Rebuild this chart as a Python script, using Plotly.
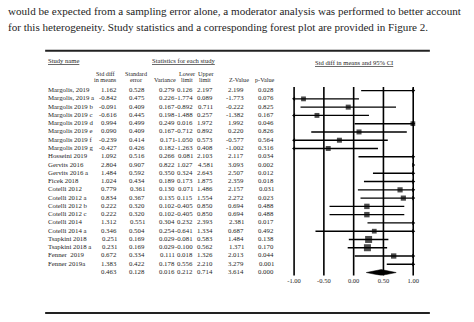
import plotly.graph_objects as go

# ---------------- data ----------------
studies = ["Margolis, 2019", "Margolis, 2019 a", "Margolis 2019 b", "Margolis 2019 c",
           "Margolis 2019 d", "Margolis 2019 e", "Margolis 2019 f", "Margolis 2019 g",
           "Hosseini 2019", "Gervits 2016", "Gervits 2016 a", "Ficek 2018",
           "Cotelli 2012", "Cotelli 2012 a", "Cotelli 2012 b", "Cotelli 2012 c",
           "Cotelli 2014", "Cotelli 2014 a", "Tsapkini 2018", "Tsapkini 2018 a",
           "Fenner  2019", "Fenner 2019a"]
std_diff = [1.162, -0.842, -0.091, -0.616, 0.994, 0.090, -0.239, -0.427, 1.092, 2.804, 1.484, 1.024,
            0.779, 0.834, 0.222, 0.222, 1.312, 0.346, 0.251, 0.231, 0.672, 1.383]
std_err = [0.528, 0.475, 0.409, 0.445, 0.499, 0.409, 0.414, 0.426, 0.516, 0.907, 0.592, 0.434,
           0.361, 0.367, 0.320, 0.320, 0.551, 0.504, 0.169, 0.169, 0.334, 0.422]
variance = [0.279, 0.226, 0.167, 0.198, 0.249, 0.167, 0.171, 0.182, 0.266, 0.822, 0.350, 0.189,
            0.130, 0.135, 0.102, 0.102, 0.304, 0.254, 0.029, 0.029, 0.111, 0.178]
lower = [0.126, -1.774, -0.892, -1.488, 0.016, -0.712, -1.050, -1.263, 0.081, 1.027, 0.324, 0.173,
         0.071, 0.115, -0.405, -0.405, 0.232, -0.641, -0.081, -0.100, 0.018, 0.556]
upper = [2.197, 0.089, 0.711, 0.257, 1.972, 0.892, 0.573, 0.408, 2.103, 4.581, 2.643, 1.875,
         1.486, 1.554, 0.850, 0.850, 2.393, 1.334, 0.583, 0.562, 1.326, 2.210]
z_value = [2.199, -1.773, -0.222, -1.382, 1.992, 0.220, -0.577, -1.002, 2.117, 3.093, 2.507, 2.359,
           2.157, 2.272, 0.694, 0.694, 2.381, 0.687, 1.484, 1.371, 2.013, 3.279]
p_value = [0.028, 0.076, 0.825, 0.167, 0.046, 0.826, 0.564, 0.316, 0.034, 0.002, 0.012, 0.018,
           0.031, 0.023, 0.488, 0.488, 0.017, 0.492, 0.138, 0.170, 0.044, 0.001]

summary_stats = [0.463, 0.128, 0.016, 0.212, 0.714, 3.614, 0.000]  # diff, se, var, lo, hi, z, p

col_head_1 = ["Std diff", "Standard", "", "Lower", "Upper", "", ""]
col_head_2 = ["in means", "error", "Variance", "limit", "limit", "Z-Value", "p-Value"]

tick_vals = [-1.0, -0.5, 0.0, 0.5, 1.0]
tick_text = ["-1.00", "-0.50", "0.00", "0.50", "1.00"]

para_lines = [
    "would be expected from a sampling error alone, a moderator analysis was performed to better account",
    "for this heterogeneity. Study statistics and a corresponding forest plot are provided in Figure 2.",
]

# ---------------- layout helpers ----------------
W, H = 474, 322
SERIF = "Liberation Serif"
INK = "#1e1e1e"


def px(x):
    return x / W


def py(y):
    return 1 - y / H


XMIN, XMAX = -1.0, 1.0
PAD = 0.02
x_left_px, x_right_px = 294.3, 416.0
unit = (x_right_px - x_left_px) / (XMAX - XMIN)
dom_x = [px(x_left_px - PAD * unit), px(x_right_px + PAD * unit)]

row0_px, row_h = 90.6, 8.27
top_px, bot_px = 87.0, 275.5
y_top = (top_px - row0_px) / row_h
y_bot = (bot_px - row0_px) / row_h
dom_y = [py(bot_px), py(top_px)]

n = len(studies)
rows = list(range(n))
sum_row = n

fig = go.Figure()

# CI lines (clipped to display range)
lx, ly = [], []
for i in rows:
    a, b = max(lower[i], XMIN), min(upper[i], XMAX)
    if a < b:
        lx += [a, b, None]
        ly += [i, i, None]
fig.add_trace(go.Scatter(x=lx, y=ly, mode="lines", line=dict(color="black", width=1.4),
                         hoverinfo="skip", showlegend=False))

# arrows for CIs beyond display range
rx = [XMAX for i in rows if upper[i] > XMAX]
ry = [i for i in rows if upper[i] > XMAX]
lxa = [XMIN for i in rows if lower[i] < XMIN]
lya = [i for i in rows if lower[i] < XMIN]
fig.add_trace(go.Scatter(x=rx, y=ry, mode="markers", cliponaxis=False,
                         marker=dict(symbol="triangle-right", size=4, color="black"),
                         hoverinfo="skip", showlegend=False))
fig.add_trace(go.Scatter(x=lxa, y=lya, mode="markers", cliponaxis=False,
                         marker=dict(symbol="triangle-left", size=4, color="black"),
                         hoverinfo="skip", showlegend=False))

# boxes sized by weight
weights = [1 / v for v in variance]
wmax = max(weights)
bx, by, bs = [], [], []
for i in rows:
    if XMIN <= std_diff[i] <= XMAX:
        bx.append(std_diff[i])
        by.append(i)
        bs.append(3.6 + 3.4 * (weights[i] / wmax) ** 0.5)
fig.add_trace(go.Scatter(x=bx, y=by, mode="markers", cliponaxis=False,
                         marker=dict(symbol="square", size=bs, color="black", line=dict(width=0)),
                         hoverinfo="skip", showlegend=False))

# summary diamond
s_est, s_lo, s_hi = summary_stats[0], summary_stats[3], summary_stats[4]
dh = 0.36
fig.add_trace(go.Scatter(x=[s_lo, s_est, s_hi, s_est, s_lo],
                         y=[sum_row, sum_row - dh, sum_row, sum_row + dh, sum_row],
                         mode="lines", fill="toself", fillcolor="black",
                         line=dict(color="black", width=0.5), cliponaxis=False,
                         hoverinfo="skip", showlegend=False))

# vertical reference lines
shapes = []
for t in tick_vals:
    shapes.append(dict(type="line", xref="x", yref="paper", x0=t, x1=t,
                       y0=dom_y[0], y1=dom_y[1], line=dict(color="black", width=1.6)))

# rules
for yy in (50.7, 313.0):
    shapes.append(dict(type="line", xref="paper", yref="paper", x0=px(40), x1=px(433),
                       y0=py(yy), y1=py(yy), line=dict(color="#222", width=2)))

ann = []
# paragraph
for k, line in enumerate(para_lines):
    ann.append(dict(text=line, xref="paper", yref="paper", x=px(0), y=py(10.5 + 16.5 * k),
                    xanchor="left", yanchor="middle", showarrow=False,
                    font=dict(family=SERIF, size=11.1, color=INK)))

# section headers
ann.append(dict(text="<u>Study name</u>", xref="paper", yref="paper", x=px(41), y=py(61),
                xanchor="left", yanchor="middle", showarrow=False,
                font=dict(family=SERIF, size=6.6, color=INK)))
ann.append(dict(text="<u>Statistics for each study</u>", xref="paper", yref="paper", x=px(182),
                y=py(61), xanchor="center", yanchor="middle", showarrow=False,
                font=dict(family=SERIF, size=6.6, color=INK)))
ann.append(dict(text="<u>Std diff in means and 95% CI</u>", xref="paper", yref="paper", x=px(355),
                y=py(62), xanchor="center", yanchor="middle", showarrow=False,
                font=dict(family=SERIF, size=6.6, color=INK)))

# column headers
head_cx = [102, 133, 162, 184.5, 203.5, 238, 264]
for c in range(7):
    for txt, yy in ((col_head_1[c], 73.3), (col_head_2[c], 79.5)):
        if txt:
            ann.append(dict(text=txt, xref="paper", yref="paper", x=px(head_cx[c]), y=py(yy),
                            xanchor="center", yanchor="middle", showarrow=False,
                            font=dict(family=SERIF, size=6.2, color=INK)))

# table body
col_right = [115.7, 144.5, 174.3, 193.3, 213.3, 245.5, 275.5]
text_row0 = 89.6


def add_row(r, name, vals):
    yy = py(text_row0 + row_h * r)
    if name:
        ann.append(dict(text=name, xref="paper", yref="paper", x=px(41), y=yy,
                        xanchor="left", yanchor="middle", showarrow=False,
                        font=dict(family=SERIF, size=6.8, color=INK)))
    for c, v in enumerate(vals):
        ann.append(dict(text=f"{v:.3f}", xref="paper", yref="paper", x=px(col_right[c]), y=yy,
                        xanchor="right", yanchor="middle", showarrow=False,
                        font=dict(family=SERIF, size=6.8, color=INK)))


for i in rows:
    add_row(i, studies[i], [std_diff[i], std_err[i], variance[i], lower[i], upper[i],
                            z_value[i], p_value[i]])
add_row(sum_row, "", summary_stats)

fig.update_layout(
    width=W, height=H, margin=dict(l=0, r=0, t=0, b=0),
    paper_bgcolor="white", plot_bgcolor="rgba(0,0,0,0)",
    showlegend=False, shapes=shapes, annotations=ann,
    xaxis=dict(domain=dom_x, range=[XMIN - PAD, XMAX + PAD], tickvals=tick_vals, ticktext=tick_text,
               showgrid=False, zeroline=False, showline=False, ticks="",
               tickfont=dict(family=SERIF, size=6.5, color=INK), fixedrange=True),
    yaxis=dict(domain=dom_y, range=[y_bot, y_top], visible=False, fixedrange=True),
)

fig.write_html("out.html")
